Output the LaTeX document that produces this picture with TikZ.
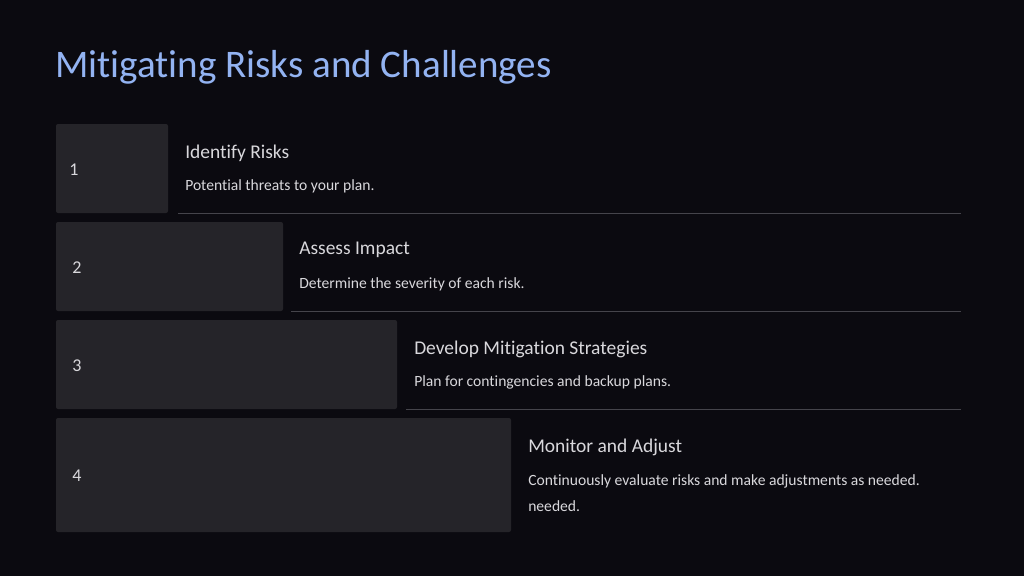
\documentclass[tikz,border=0pt]{standalone}
\usepackage{fontspec}
\setmainfont[Ligatures=NoCommon]{Carlito}
\definecolor{bg}{HTML}{0B0A10}
\definecolor{boxc}{HTML}{252429}
\definecolor{titlec}{HTML}{93B3F2}
\definecolor{txt}{HTML}{D9D8DC}
\definecolor{rule}{HTML}{45444B}
\begin{document}
\begin{tikzpicture}[x=0.75pt,y=-0.75pt,
  stepbox/.style={fill=boxc,rounded corners=1.5pt},
  num/.style={anchor=west,text=txt,font=\fontsize{13.5}{15}\selectfont,inner sep=0pt},
  head/.style={anchor=west,text=txt,font=\fontsize{14.6}{16}\selectfont,inner sep=0pt},
  desc/.style={anchor=west,text=txt,font=\fontsize{11.7}{14}\selectfont,inner sep=0pt},
  sep/.style={draw=rule,line width=0.7pt}]
\fill[bg] (0,0) rectangle (1024,576);
\useasboundingbox (0,0) rectangle (1024,576);
\node[anchor=west,text=titlec,font=\fontsize{29.3}{34}\selectfont,inner sep=0pt] (title) at (55,67) {Mitigating Risks and Challenges};
% boxes
\fill[stepbox] (56,124) rectangle (168,213);
\fill[stepbox] (56,222) rectangle (283,311);
\fill[stepbox] (56,320) rectangle (397,409);
\fill[stepbox] (56,418) rectangle (511,532);
\node[num] (n1) at (69,170) {1};
\node[num] (n2) at (72,268) {2};
\node[num] (n3) at (72,366) {3};
\node[num] (n4) at (72,476) {4};
\node[head] (h1) at (185,153) {Identify Risks};
\node[desc] (d1) at (185,186) {Potential threats to your plan.};
\node[head] (h2) at (299,250) {Assess Impact};
\node[desc] (d2) at (299,284) {Determine the severity of each risk.};
\node[head] (h3) at (414,349) {Develop Mitigation Strategies};
\node[desc] (d3) at (414,382) {Plan for contingencies and backup plans.};
\node[head] (h4) at (528,447) {Monitor and Adjust};
\node[desc] (d4) at (528,481) {Continuously evaluate risks and make adjustments as needed.};
\node[desc] (d4b) at (528,506) {needed.};
\coordinate (l1a) at (178,213); \coordinate (l1b) at (961,213);
\coordinate (l2a) at (291,311); \coordinate (l2b) at (961,311);
\coordinate (l3a) at (406,409); \coordinate (l3b) at (961,409);
\draw[sep] (l1a) -- (l1b);
\draw[sep] (l2a) -- (l2b);
\draw[sep] (l3a) -- (l3b);
\end{tikzpicture}
\end{document}
